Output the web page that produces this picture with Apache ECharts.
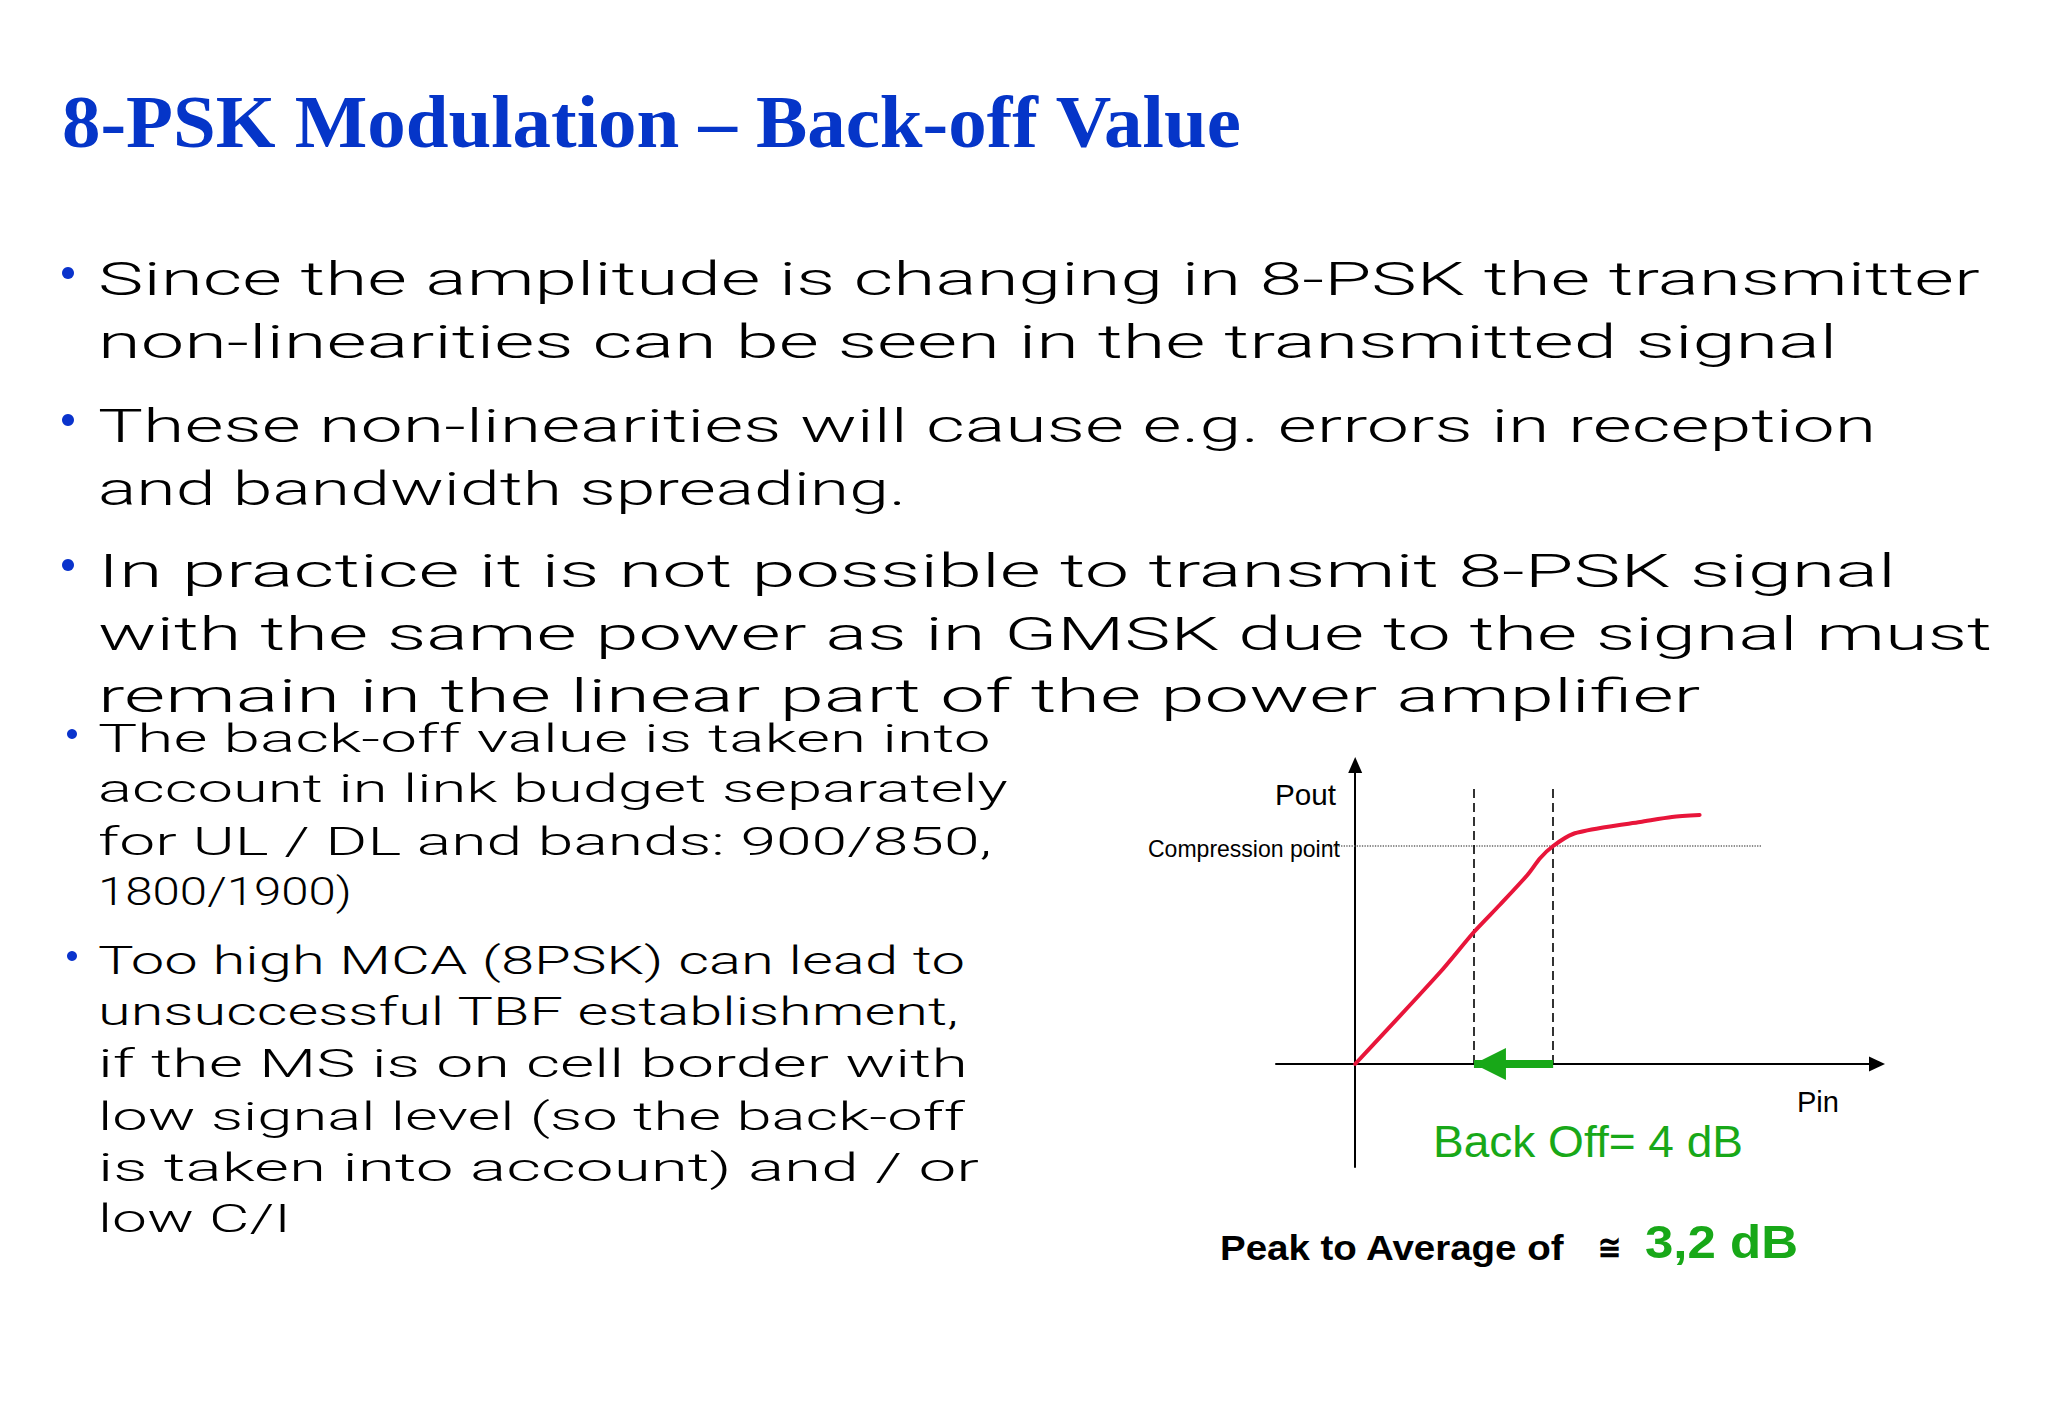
<!DOCTYPE html>
<html>
<head>
<meta charset="utf-8">
<script src="https://cdn.jsdelivr.net/npm/echarts@6/dist/echarts.min.js"></script>
<style>
html,body{margin:0;padding:0;background:#ffffff;}
#main{width:2048px;height:1418px;}
</style>
</head>
<body>
<div id="main"></div>
<script>
// ---------- content / data ----------
const titleText = '8-PSK Modulation \u2013 Back-off Value';
const mainBullets = [
  ['Since the amplitude is changing in 8-PSK the transmitter',
   'non-linearities can be seen in the transmitted signal'],
  ['These non-linearities will cause e.g. errors in reception',
   'and bandwidth spreading.'],
  ['In practice it is not possible to transmit 8-PSK signal',
   'with the same power as in GMSK due to the signal must',
   'remain in the linear part of the power amplifier']
];
const sideBullets = [
  ['The back-off value is taken into',
   'account in link budget separately',
   'for UL / DL and bands: 900/850,',
   '1800/1900)'],
  ['Too high MCA (8PSK) can lead to',
   'unsuccessful TBF establishment,',
   'if the MS is on cell border with',
   'low signal level (so the back-off',
   'is taken into account) and / or',
   'low C/I']
];
// transfer curve of the power amplifier (arbitrary units)
const pinValues  = [0, 4.3, 6.0, 7.3, 8.7, 9.35, 10.0, 11.0, 12.7, 14.4, 16.0, 17.4];
const poutValues = [0, 4.6, 6.6, 7.95, 9.45, 10.3, 10.9, 11.5, 11.85, 12.1, 12.35, 12.45];
const compressionLevel = 10.9;
const compressionSpan = [-1.5, 20.55];
const backOffFrom = 10;   // Pin at compression point
const backOffTo = 6;      // Pin after 4 dB back-off
const guideTop = 14;
const axisNames = { y: 'Pout', x: 'Pin', compression: 'Compression point' };
const backOffText = 'Back Off= 4 dB';
const peakText = 'Peak to Average of';
const approxSign = '\u2245';
const peakValue = '3,2 dB';

// ---------- layout ----------
const mainLayout = [[295, 1980], [358, 1838], [442, 1877], [505, 906], [587, 1896], [650, 1992], [712, 1701]];
const sideLayout = [[752, 991], [802, 1008], [855, 992], [905, 352], [974, 965], [1025, 960], [1077, 968], [1130, 965], [1181, 979], [1232, 291]];

const mctx = document.createElement('canvas').getContext('2d');
function fitText(text, left, right, baseline, size, family, weight, color) {
  const font = weight + ' ' + size + 'px ' + family;
  mctx.font = font;
  const w = mctx.measureText(text).width;
  const sx = right != null ? (right - left) / w : 1;
  return {
    type: 'text', x: left, y: baseline - 0.345 * size, scaleX: sx, silent: true, z: 100,
    style: { text: text, x: 0, y: 0, font: font, fill: color,
      align: 'left', verticalAlign: 'middle', textAlign: 'left', textVerticalAlign: 'middle' }
  };
}
function dot(cx, cy, r) {
  return { type: 'circle', silent: true, z: 100, shape: { cx: cx, cy: cy, r: r }, style: { fill: '#0a33cc' } };
}

const bodyFont = 'Roboto, "Open Sans", sans-serif';
const sansFont = '"Liberation Sans", Arial, sans-serif';
const graphics = [];
graphics.push(fitText(titleText, 62, 1242, 147, 75, '"Liberation Serif", serif', 'bold', '#0535c8'));

let li = 0;
mainBullets.forEach(function (lines) {
  graphics.push(dot(68, mainLayout[li][0] - 22, 6));
  lines.forEach(function (t) {
    graphics.push(fitText(t, 98, mainLayout[li][1], mainLayout[li][0], 46, bodyFont, '300', '#000'));
    li++;
  });
});
li = 0;
sideBullets.forEach(function (lines) {
  graphics.push(dot(72, sideLayout[li][0] - 18, 5));
  lines.forEach(function (t) {
    graphics.push(fitText(t, 98, sideLayout[li][1], sideLayout[li][0], 38, bodyFont, '300', '#000'));
    li++;
  });
});

graphics.push(fitText(axisNames.y, 1275, 1336, 805, 30, sansFont, 'normal', '#000'));
graphics.push(fitText(axisNames.compression, 1148, 1340, 857, 23, sansFont, 'normal', '#000'));
graphics.push(fitText(axisNames.x, 1797, 1839, 1112, 30, sansFont, 'normal', '#000'));
graphics.push(fitText(backOffText, 1433, 1743, 1157, 45, sansFont, 'normal', '#18a818'));
graphics.push(fitText(peakText, 1220, 1565, 1260, 36, sansFont, 'bold', '#000'));
graphics.push(fitText(approxSign, 1598, 1621, 1260, 36, sansFont, 'bold', '#000'));
graphics.push(fitText(peakValue, 1645, 1798, 1258, 47, sansFont, 'bold', '#18a818'));

const curve = pinValues.map(function (x, i) { return [x, poutValues[i]]; });

const chart = echarts.init(document.getElementById('main'), null, { renderer: 'svg', width: 2048, height: 1418 });
chart.setOption({
  backgroundColor: '#ffffff',
  animation: false,
  grid: { left: 1276, top: 765, width: 601, height: 402, containLabel: false, outerBoundsMode: 'none' },
  xAxis: {
    type: 'value', min: -4, max: 26.36,
    axisLine: { onZero: true, symbol: ['none', 'triangle'], symbolSize: [15, 16], lineStyle: { color: '#000', width: 2 } },
    axisTick: { show: false }, axisLabel: { show: false }, splitLine: { show: false }
  },
  yAxis: {
    type: 'value', min: -5.15, max: 14.95,
    axisLine: { onZero: true, symbol: ['none', 'triangle'], symbolSize: [14, 16], lineStyle: { color: '#000', width: 2 } },
    axisTick: { show: false }, axisLabel: { show: false }, splitLine: { show: false }
  },
  series: [
    {
      type: 'line', name: 'compression', silent: true, symbol: 'none', z: 2,
      data: [[compressionSpan[0], compressionLevel], [compressionSpan[1], compressionLevel]],
      lineStyle: { color: '#666', width: 1.3, type: 'dotted' }
    },
    {
      type: 'line', name: 'guides', silent: true, symbol: 'none', z: 3,
      data: [[backOffFrom, 0]], lineStyle: { width: 0 },
      markLine: {
        silent: true, symbol: 'none', label: { show: false }, animation: false,
        lineStyle: { color: '#000', type: [9, 5], width: 1.6 },
        emphasis: { disabled: true },
        data: [
          [{ coord: [backOffTo, 0] }, { coord: [backOffTo, guideTop] }],
          [{ coord: [backOffFrom, 0] }, { coord: [backOffFrom, guideTop] }]
        ]
      }
    },
    {
      type: 'line', name: 'Pout', silent: true, symbol: 'none', smooth: 0.25, z: 5,
      data: curve,
      lineStyle: { color: '#e8153a', width: 4, cap: 'round', join: 'round' }
    },
    {
      type: 'line', name: 'backoff', silent: true, symbol: 'none', z: 6,
      data: [[backOffFrom, 0]], lineStyle: { width: 0 },
      markLine: {
        silent: true, symbol: ['none', 'triangle'], symbolSize: 32, symbolOffset: [0, [0, 16]],
        label: { show: false }, animation: false, emphasis: { disabled: true },
        itemStyle: { color: '#18a818' },
        lineStyle: { color: '#18a818', width: 8, type: 'solid' },
        data: [[{ coord: [backOffFrom, 0] }, { coord: [backOffTo, 0] }]]
      }
    }
  ],
  graphic: graphics
});
</script>
</body>
</html>
